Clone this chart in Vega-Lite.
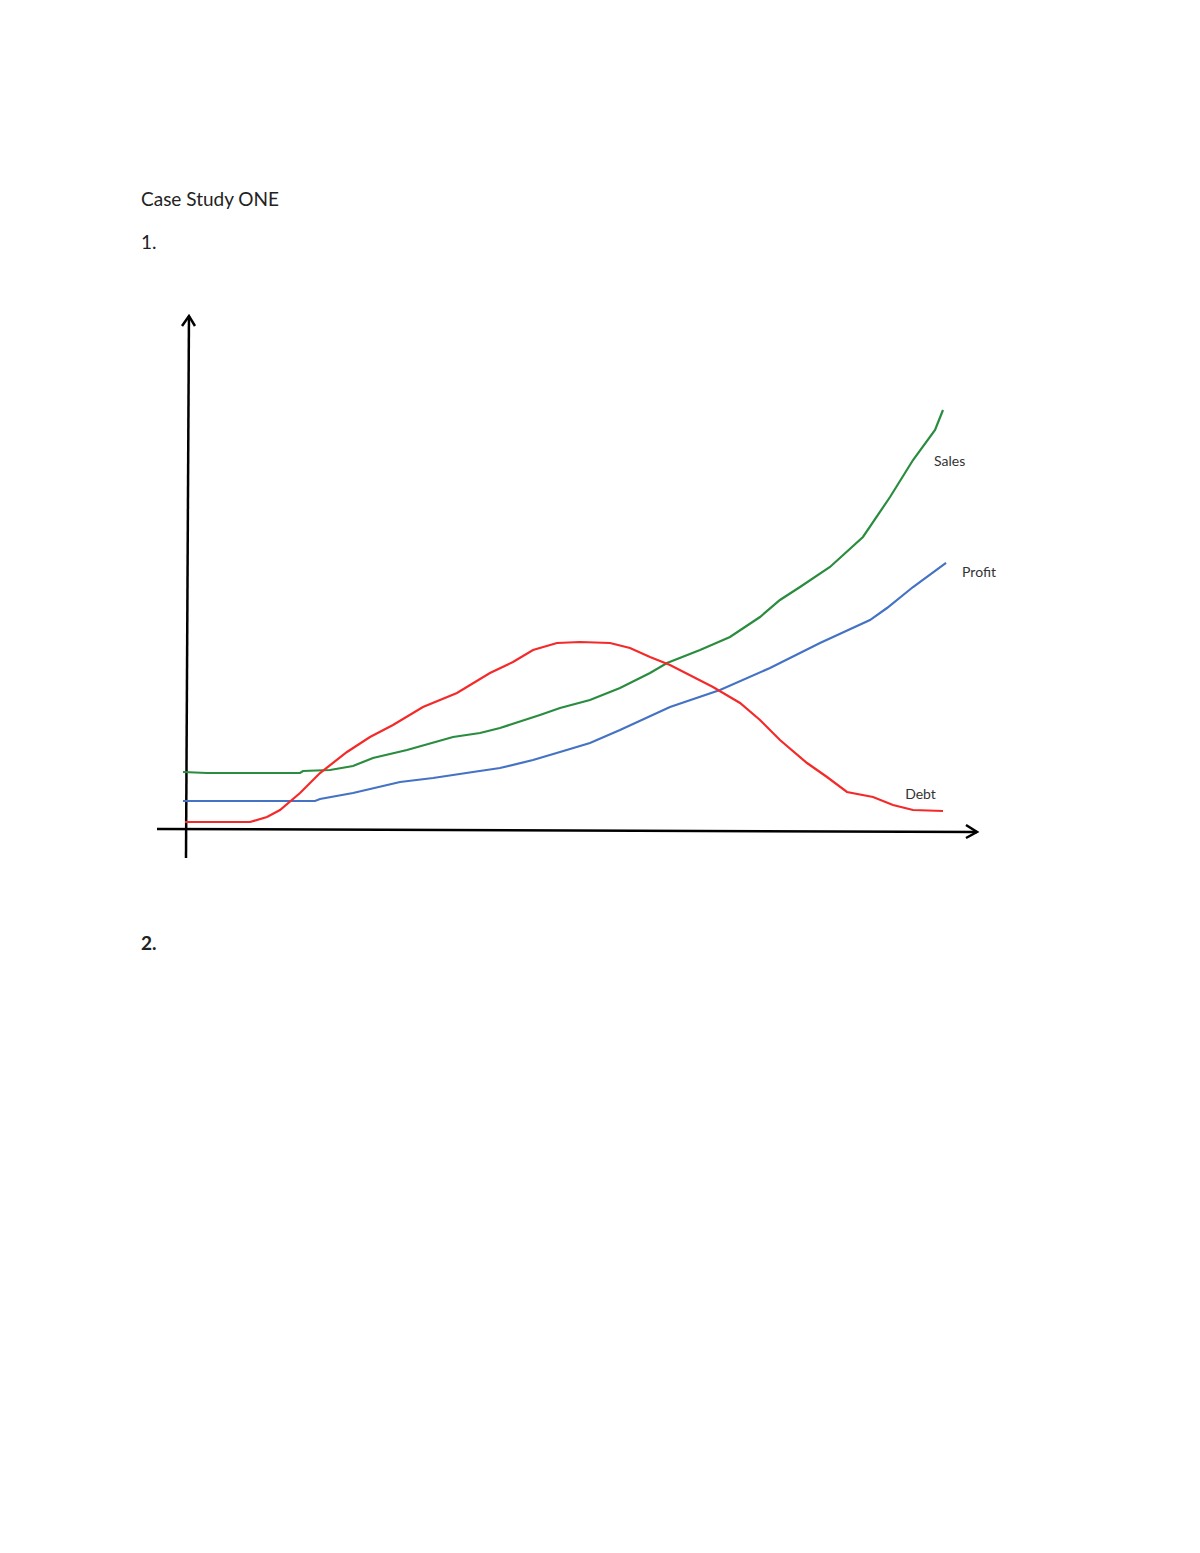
{
  "$schema": "https://vega.github.io/schema/vega-lite/v6.json",
  "autosize": {"type": "none"},
  "width": 780,
  "height": 520,
  "padding": {"left": 186, "top": 310, "right": 234, "bottom": 723},
  "background": "white",
  "config": {"view": {"stroke": null}},
  "datasets": {
    "axes": [
      {"part": "yaxis", "i": 1, "x": 0, "y": -5.38},
      {"part": "yaxis", "i": 2, "x": 0.38, "y": 98.85},
      {"part": "yarrow", "i": 1, "x": -0.51, "y": 96.92},
      {"part": "yarrow", "i": 2, "x": 0.38, "y": 98.85},
      {"part": "yarrow", "i": 3, "x": 1.15, "y": 96.92},
      {"part": "xaxis", "i": 1, "x": -3.72, "y": 0.19},
      {"part": "xaxis", "i": 2, "x": 101.41, "y": -0.38},
      {"part": "xarrow", "i": 1, "x": 100, "y": 0.96},
      {"part": "xarrow", "i": 2, "x": 101.41, "y": -0.38},
      {"part": "xarrow", "i": 3, "x": 100, "y": -1.54}
    ],
    "series": [
      {"series": "Sales", "x": -0.38, "y": 11.15},
      {"series": "Sales", "x": 2.69, "y": 10.96},
      {"series": "Sales", "x": 14.62, "y": 10.96},
      {"series": "Sales", "x": 15.0, "y": 11.35},
      {"series": "Sales", "x": 18.46, "y": 11.54},
      {"series": "Sales", "x": 21.41, "y": 12.31},
      {"series": "Sales", "x": 23.97, "y": 13.85},
      {"series": "Sales", "x": 28.33, "y": 15.38},
      {"series": "Sales", "x": 34.23, "y": 17.88},
      {"series": "Sales", "x": 37.69, "y": 18.65},
      {"series": "Sales", "x": 40.26, "y": 19.62},
      {"series": "Sales", "x": 45.38, "y": 22.12},
      {"series": "Sales", "x": 47.95, "y": 23.46},
      {"series": "Sales", "x": 51.79, "y": 25.0},
      {"series": "Sales", "x": 55.64, "y": 27.31},
      {"series": "Sales", "x": 59.49, "y": 30.19},
      {"series": "Sales", "x": 61.67, "y": 32.12},
      {"series": "Sales", "x": 65.9, "y": 34.62},
      {"series": "Sales", "x": 69.74, "y": 37.12},
      {"series": "Sales", "x": 73.59, "y": 40.96},
      {"series": "Sales", "x": 76.15, "y": 44.23},
      {"series": "Sales", "x": 78.72, "y": 46.73},
      {"series": "Sales", "x": 82.56, "y": 50.58},
      {"series": "Sales", "x": 86.79, "y": 56.35},
      {"series": "Sales", "x": 90.26, "y": 64.04},
      {"series": "Sales", "x": 93.21, "y": 71.15},
      {"series": "Sales", "x": 96.03, "y": 76.92},
      {"series": "Sales", "x": 97.05, "y": 80.77},
      {"series": "Profit", "x": -0.38, "y": 5.58},
      {"series": "Profit", "x": 16.54, "y": 5.58},
      {"series": "Profit", "x": 17.18, "y": 5.96},
      {"series": "Profit", "x": 21.41, "y": 7.12},
      {"series": "Profit", "x": 27.44, "y": 9.23},
      {"series": "Profit", "x": 31.67, "y": 10.0},
      {"series": "Profit", "x": 36.79, "y": 11.15},
      {"series": "Profit", "x": 40.26, "y": 11.92},
      {"series": "Profit", "x": 44.49, "y": 13.46},
      {"series": "Profit", "x": 47.95, "y": 15.0},
      {"series": "Profit", "x": 51.79, "y": 16.73},
      {"series": "Profit", "x": 55.64, "y": 19.23},
      {"series": "Profit", "x": 62.05, "y": 23.65},
      {"series": "Profit", "x": 68.46, "y": 26.92},
      {"series": "Profit", "x": 74.87, "y": 31.15},
      {"series": "Profit", "x": 81.28, "y": 35.96},
      {"series": "Profit", "x": 87.69, "y": 40.38},
      {"series": "Profit", "x": 89.87, "y": 42.69},
      {"series": "Profit", "x": 93.21, "y": 46.73},
      {"series": "Profit", "x": 97.44, "y": 51.35},
      {"series": "Debt", "x": -0.13, "y": 1.54},
      {"series": "Debt", "x": 8.21, "y": 1.54},
      {"series": "Debt", "x": 10.38, "y": 2.5},
      {"series": "Debt", "x": 12.05, "y": 3.85},
      {"series": "Debt", "x": 14.62, "y": 7.12},
      {"series": "Debt", "x": 17.18, "y": 10.96},
      {"series": "Debt", "x": 20.64, "y": 15.0},
      {"series": "Debt", "x": 23.59, "y": 17.88},
      {"series": "Debt", "x": 26.54, "y": 20.19},
      {"series": "Debt", "x": 30.38, "y": 23.65},
      {"series": "Debt", "x": 34.74, "y": 26.35},
      {"series": "Debt", "x": 38.97, "y": 30.19},
      {"series": "Debt", "x": 41.92, "y": 32.31},
      {"series": "Debt", "x": 44.49, "y": 34.62},
      {"series": "Debt", "x": 47.56, "y": 35.96},
      {"series": "Debt", "x": 50.51, "y": 36.15},
      {"series": "Debt", "x": 54.36, "y": 35.96},
      {"series": "Debt", "x": 56.92, "y": 35.0},
      {"series": "Debt", "x": 59.49, "y": 33.27},
      {"series": "Debt", "x": 62.05, "y": 31.73},
      {"series": "Debt", "x": 67.56, "y": 27.5},
      {"series": "Debt", "x": 71.03, "y": 24.42},
      {"series": "Debt", "x": 73.59, "y": 21.15},
      {"series": "Debt", "x": 76.15, "y": 17.31},
      {"series": "Debt", "x": 79.62, "y": 12.88},
      {"series": "Debt", "x": 82.18, "y": 10.19},
      {"series": "Debt", "x": 84.74, "y": 7.31},
      {"series": "Debt", "x": 88.08, "y": 6.35},
      {"series": "Debt", "x": 90.64, "y": 4.81},
      {"series": "Debt", "x": 93.21, "y": 3.85},
      {"series": "Debt", "x": 97.05, "y": 3.65}
    ],
    "labels": [
      {"label": "Sales", "x": 95.9, "y": 70.77},
      {"label": "Profit", "x": 99.5, "y": 49.42},
      {"label": "Debt", "x": 92.2, "y": 6.73}
    ],
    "doc": [
      {"text": "Case Study ONE", "weight": "normal", "x": -5.77, "y": 121.15},
      {"text": "1.", "weight": "normal", "x": -5.77, "y": 112.88},
      {"text": "2.", "weight": "bold", "x": -5.77, "y": -21.92}
    ]
  },
  "encoding": {
    "x": {"field": "x", "type": "quantitative", "scale": {"domain": [0, 100], "nice": false, "zero": false}, "axis": null},
    "y": {"field": "y", "type": "quantitative", "scale": {"domain": [0, 100], "nice": false, "zero": false}, "axis": null}
  },
  "layer": [
    {
      "data": {"name": "axes"},
      "mark": {"type": "line", "color": "#000000", "strokeWidth": 2.5, "clip": false},
      "encoding": {
        "detail": {"field": "part"},
        "order": {"field": "i", "type": "quantitative"}
      }
    },
    {
      "data": {"name": "series"},
      "mark": {"type": "line", "strokeWidth": 2.2, "clip": false},
      "encoding": {
        "color": {
          "field": "series",
          "type": "nominal",
          "scale": {"domain": ["Sales", "Profit", "Debt"], "range": ["#2a8c3f", "#4472c4", "#f42a2a"]},
          "legend": null
        }
      }
    },
    {
      "data": {"name": "labels"},
      "mark": {"type": "text", "align": "left", "baseline": "middle", "font": "Lato", "fontSize": 14, "color": "#333333", "clip": false},
      "encoding": {"text": {"field": "label"}}
    },
    {
      "data": {"name": "doc"},
      "transform": [{"filter": "datum.weight == 'normal'"}],
      "mark": {"type": "text", "align": "left", "baseline": "middle", "font": "Lato", "fontSize": 19, "color": "#222222", "clip": false},
      "encoding": {"text": {"field": "text"}}
    },
    {
      "data": {"name": "doc"},
      "transform": [{"filter": "datum.weight == 'bold'"}],
      "mark": {"type": "text", "align": "left", "baseline": "middle", "font": "Lato", "fontSize": 19, "fontWeight": "bold", "color": "#222222", "clip": false},
      "encoding": {"text": {"field": "text"}}
    }
  ]
}
